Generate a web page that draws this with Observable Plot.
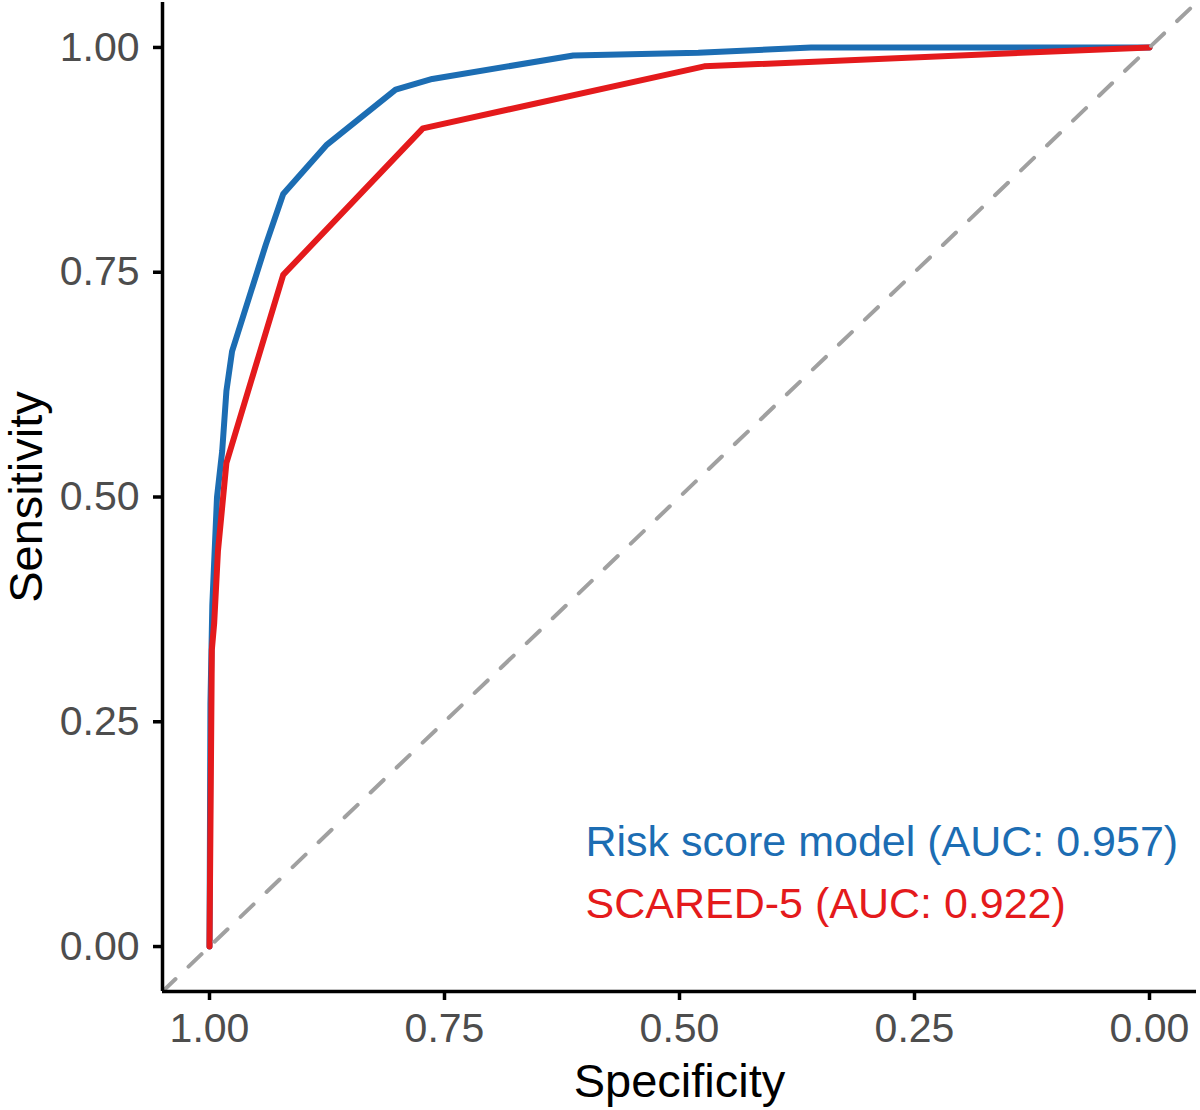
<!DOCTYPE html>
<html>
<head>
<meta charset="utf-8">
<script src="https://cdn.jsdelivr.net/npm/d3@7"></script>
<script src="https://cdn.jsdelivr.net/npm/@observablehq/plot@0.6"></script>
<style>
  html, body { margin: 0; padding: 0; background: #ffffff; }
  #chart { width: 1200px; height: 1110px; }
</style>
</head>
<body>
<div id="chart"></div>
<script>
// ROC curve data
const riskSpec = [1.000, 0.999, 0.997, 0.992, 0.9865, 0.982, 0.976, 0.940, 0.9216, 0.875, 0.802, 0.763, 0.613, 0.480, 0.360, 0.000];
const riskSens = [0.000, 0.270, 0.380, 0.500, 0.551, 0.618, 0.662, 0.781, 0.837, 0.892, 0.953, 0.965, 0.991, 0.994, 1.000, 1.000];
const scaredSpec = [1.000, 0.9975, 0.995, 0.991, 0.982, 0.9216, 0.773, 0.4737, 0.000];
const scaredSens = [0.000, 0.330, 0.360, 0.440, 0.538, 0.747, 0.910, 0.979, 1.000];

const seriesNames = ["Risk score model", "SCARED-5"];
const seriesAUC = ["0.957", "0.922"];
const seriesColors = ["#1c6db3", "#e41a1c"];

const xTicks = [1.00, 0.75, 0.50, 0.25, 0.00];
const yTicks = [0.00, 0.25, 0.50, 0.75, 1.00];
const xDomain = [1.05, -0.05];
const yDomain = [-0.05, 1.05];

const risk = riskSpec.map((s, i) => ({spec: s, sens: riskSens[i], series: seriesNames[0]}));
const scared = scaredSpec.map((s, i) => ({spec: s, sens: scaredSens[i], series: seriesNames[1]}));
const diagonal = xDomain.map(s => ({spec: s, sens: 1 - s}));
const legendLabels = seriesNames.map((n, i) => `${n} (AUC: ${seriesAUC[i]})`);

const font = "'Liberation Sans', Arial, Helvetica, sans-serif";
const fmt = d3.format(".2f");

const chart = Plot.plot({
  width: 1200,
  height: 1110,
  marginLeft: 162,
  marginRight: 4,
  marginTop: 2,
  marginBottom: 119,
  style: {fontFamily: font, background: "#ffffff", overflow: "visible"},
  x: {domain: xDomain, ticks: xTicks, label: null},
  y: {domain: yDomain, ticks: yTicks, label: null},
  marks: [
    Plot.line(risk, {x: "spec", y: "sens", stroke: seriesColors[0], strokeWidth: 6, strokeLinejoin: "round"}),
    Plot.line(scared, {x: "spec", y: "sens", stroke: seriesColors[1], strokeWidth: 6, strokeLinejoin: "round"}),
    Plot.line(diagonal, {x: "spec", y: "sens", stroke: "#a0a0a0", strokeWidth: 4, strokeDasharray: "18,18", clip: true}),
    Plot.ruleY([yDomain[0]], {stroke: "black", strokeWidth: 3.5}),
    Plot.ruleX([xDomain[0]], {stroke: "black", strokeWidth: 3.5}),
    Plot.axisX({ticks: xTicks, tickFormat: fmt, tickSize: 9, tickPadding: 12, fontSize: 41, stroke: "black", fill: "#4d4d4d", strokeWidth: 3.5, label: null}),
    Plot.axisY({ticks: yTicks, tickFormat: fmt, tickSize: 9, tickPadding: 14, fontSize: 41, stroke: "black", fill: "#4d4d4d", strokeWidth: 3.5, label: null}),
    Plot.text(["Specificity"], {frameAnchor: "bottom", lineAnchor: "bottom", dy: 105, fontSize: 47, fill: "black"}),
    Plot.text(["Sensitivity"], {frameAnchor: "left", textAnchor: "middle", lineAnchor: "bottom", rotate: -90, dx: -121, fontSize: 47, fill: "black"}),
    Plot.text([legendLabels[0]], {frameAnchor: "bottom-left", textAnchor: "start", lineAnchor: "bottom", dx: 423, dy: -136, fontSize: 43, fill: seriesColors[0]}),
    Plot.text([legendLabels[1]], {frameAnchor: "bottom-left", textAnchor: "start", lineAnchor: "bottom", dx: 423, dy: -74, fontSize: 43, fill: seriesColors[1]})
  ]
});
document.getElementById("chart").appendChild(chart);
</script>
</body>
</html>
